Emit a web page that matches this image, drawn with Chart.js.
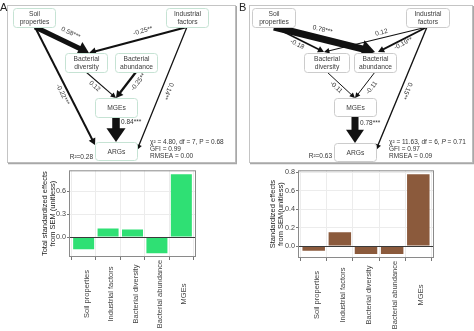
<!DOCTYPE html>
<html>
<head>
<meta charset="utf-8">
<script src="https://cdn.jsdelivr.net/npm/chart.js@4.4.0/dist/chart.umd.min.js"></script>
<style>
  html, body { margin: 0; padding: 0; background: #fff; }
  body { width: 474px; height: 331px; position: relative; overflow: hidden; }
  canvas { position: absolute; }
</style>
</head>
<body>
<canvas id="pathA" width="237" height="165" style="left:0;top:0"></canvas>
<canvas id="pathB" width="237" height="165" style="left:237px;top:0"></canvas>
<canvas id="barA" width="237" height="166" style="left:0;top:165px"></canvas>
<canvas id="barB" width="237" height="166" style="left:237px;top:165px"></canvas>
<script>
const FONT = '"Liberation Sans", Arial, sans-serif';
Chart.defaults.font.family = FONT;

// total effects on ARGs
const predictors = ['Soil properties', 'Industrial factors', 'Bacterial diversity', 'Bacterial abundance', 'MGEs'];
const effectsA = [-0.16, 0.11, 0.10, -0.21, 0.82];
const effectsB = [-0.05, 0.15, -0.085, -0.085, 0.78];
const yTicksA = [0, 0.3, 0.6];
const yTicksB = [0, 0.2, 0.4, 0.6, 0.8];

// SEM paths
const nodeText = {
  soil: ['Soil', 'properties'], ind: ['Industrial', 'factors'],
  div: ['Bacterial', 'diversity'], abund: ['Bacterial', 'abundance'],
  mge: ['MGEs'], args: ['ARGs']
};
const pathFromA = ['soil', 'ind', 'soil', 'ind', 'div', 'abund', 'mge'];
const pathToA = ['div', 'div', 'args', 'args', 'mge', 'mge', 'args'];
const pathCoefA = [0.58, -0.25, -0.22, 0.14, 0.12, -0.25, 0.84];
const pathSigA = ['***', '**', '***', '**', '', '**', '***'];
const pathFromB = ['soil', 'soil', 'ind', 'ind', 'ind', 'div', 'abund', 'mge'];
const pathToB = ['abund', 'div', 'div', 'abund', 'args', 'mge', 'mge', 'args'];
const pathCoefB = [0.78, -0.18, 0.12, -0.19, 0.15, -0.11, -0.11, 0.78];
const pathSigB = ['***', '', '', '**', '**', '', '', '***'];
const r2A = 0.28, r2B = 0.63;
const chi2A = 4.80, dfA = 7, pA = 0.68, gfiA = 0.99, rmseaA = 0.00;
const chi2B = 11.63, dfB = 6, pB = 0.71, gfiB = 0.97, rmseaB = 0.09;

// diagram geometry (node: cx, cy, w, h; ends: offsets from node centres)
const layoutA = {
  letter: 'A', letterX: 0, frame: [7, 5, 235, 162], boxStroke: '#c6e3d4', italicP: false,
  nodes: { soil: [34, 17.5, 42, 19], ind: [187, 17.5, 42, 19], div: [86, 62.5, 42, 19],
           abund: [136, 62.5, 42, 19], mge: [116, 107.5, 42, 19], args: [116, 151, 42, 18] },
  ends: [[[1, 9.5], [3, -9.5]], [[0, 9.5], [3, -9.5]], [[1, 9.5], [-21, -6]], [[0, 9.5], [21, -1]],
         [[0, 9.5], [0, -9.5]], [[0, 9.5], [0, -9.5]], [[0, 9.5], [0, -9]]],
  labels: [[0.58, 10], [0.43, 7.5], [0.55, -6], [0.5, 6.7], [0.4, -5], [0.2, -8], [0.2, 5, 'flat']],
  r2At: [93, 157], fitAt: [150, 142],
  r2: r2A, fit: [chi2A, dfA, pA, gfiA, rmseaA],
  from: pathFromA, to: pathToA, coef: pathCoefA, sig: pathSigA
};
const layoutB = {
  letter: 'B', letterX: 2, frame: [12, 5, 235, 162], boxStroke: '#cccccc', italicP: true,
  nodes: { soil: [36.5, 17.5, 43, 19], ind: [190.5, 17.5, 43, 19], div: [89.5, 62.5, 45, 19],
           abund: [138, 62.5, 42, 19], mge: [118, 107, 42, 18], args: [118, 152, 42, 18] },
  ends: [[[0.5, 9.5], [0, -10.5]], [[0.5, 9.5], [-2.5, -10.5]], [[-0.5, 9.5], [-2.5, -10.5]],
         [[-0.5, 9.5], [3, -10.5]], [[-0.5, 9.5], [21, -2]], [[0.5, 9.5], [0, -9]],
         [[0, 9.5], [0, -9]], [[0, 9], [0, -9]]],
  labels: [[0.46, 9], [0.51, -5], [0.43, 5.4], [0.52, -4], [0.5, 6], [0.45, -5], [0.44, -7], [0.25, 5, 'flat']],
  r2At: [95, 156], fitAt: [152, 142],
  r2: r2B, fit: [chi2B, dfB, pB, gfiB, rmseaB],
  from: pathFromB, to: pathToB, coef: pathCoefB, sig: pathSigB
};

function roundBox(ctx, x, y, w, h, r) {
  ctx.beginPath();
  ctx.moveTo(x + r, y);
  ctx.arcTo(x + w, y, x + w, y + h, r);
  ctx.arcTo(x + w, y + h, x, y + h, r);
  ctx.arcTo(x, y + h, x, y, r);
  ctx.arcTo(x, y, x + w, y, r);
  ctx.closePath();
}

function drawArrow(ctx, x1, y1, x2, y2, w) {
  const a = Math.atan2(y2 - y1, x2 - x1);
  const hl = 4 + 1.3 * w, hw = 1.6 + 1.05 * w;
  const bx = x2 - hl * Math.cos(a), by = y2 - hl * Math.sin(a);
  ctx.lineWidth = w;
  ctx.beginPath();
  ctx.moveTo(x1, y1);
  ctx.lineTo(bx + Math.cos(a), by + Math.sin(a));
  ctx.stroke();
  ctx.beginPath();
  ctx.moveTo(x2, y2);
  ctx.lineTo(bx + hw * Math.sin(a), by - hw * Math.cos(a));
  ctx.lineTo(bx - hw * Math.sin(a), by + hw * Math.cos(a));
  ctx.closePath();
  ctx.fill();
}

function semPlugin(L) {
  return {
    id: 'semPaths',
    afterDraw(chart) {
      const ctx = chart.ctx;
      const px = v => chart.scales.x.getPixelForValue(v);
      const py = v => chart.scales.y.getPixelForValue(v);
      ctx.save();

      // panel frame
      const [fx1, fy1, fx2, fy2] = L.frame;
      ctx.strokeStyle = '#c4c4c4';
      ctx.lineWidth = 1;
      ctx.strokeRect(px(fx1) + 0.5, py(fy1) + 0.5, px(fx2) - px(fx1), py(fy2) - py(fy1));
      ctx.strokeStyle = '#a8a8a8';
      ctx.lineWidth = 1.5;
      ctx.beginPath();
      ctx.moveTo(px(fx1) + 1, py(fy2) + 1.5);
      ctx.lineTo(px(fx2) + 1.5, py(fy2) + 1.5);
      ctx.lineTo(px(fx2) + 1.5, py(fy1) + 1);
      ctx.stroke();

      ctx.fillStyle = '#222';
      ctx.font = '11px ' + FONT;
      ctx.textBaseline = 'alphabetic';
      ctx.textAlign = 'left';
      ctx.fillText(L.letter, px(L.letterX), py(10.5));

      // paths
      const ends = L.coef.map((c, i) => {
        const f = L.nodes[L.from[i]], t = L.nodes[L.to[i]];
        const [fo, to] = L.ends[i];
        return [px(f[0] + fo[0]), py(f[1] + fo[1]), px(t[0] + to[0]), py(t[1] + to[1])];
      });
      ctx.strokeStyle = '#111';
      ctx.fillStyle = '#111';
      ctx.lineCap = 'butt';
      L.coef.forEach((c, i) => {
        const [x1, y1, x2, y2] = ends[i];
        drawArrow(ctx, x1, y1, x2, y2, Math.max(0.9, 9 * Math.abs(c)));
      });

      // boxes
      Object.keys(L.nodes).forEach(k => {
        const [cx, cy, w, h] = L.nodes[k];
        const x = px(cx - w / 2), y = py(cy - h / 2);
        roundBox(ctx, x + 0.5, y + 0.5, w, h, 3);
        ctx.fillStyle = '#fff';
        ctx.fill();
        ctx.strokeStyle = L.boxStroke;
        ctx.lineWidth = 1;
        ctx.stroke();
        const lines = nodeText[k];
        ctx.fillStyle = '#3c3c3c';
        ctx.font = '6.7px ' + FONT;
        ctx.textAlign = 'center';
        ctx.textBaseline = 'middle';
        lines.forEach((s, j) => {
          ctx.fillText(s, px(cx) + 0.5, py(cy) + 1 + (j - (lines.length - 1) / 2) * 8);
        });
      });

      // coefficient labels
      ctx.fillStyle = '#333';
      ctx.font = '6.5px ' + FONT;
      L.coef.forEach((c, i) => {
        const [x1, y1, x2, y2] = ends[i];
        const [t, off, mode] = L.labels[i];
        const text = c.toFixed(2) + L.sig[i];
        const lx = x1 + t * (x2 - x1), ly = y1 + t * (y2 - y1);
        ctx.save();
        if (mode === 'flat') {
          ctx.textAlign = 'left';
          ctx.textBaseline = 'middle';
          ctx.fillText(text, lx + off, ly);
        } else {
          let a = Math.atan2(y2 - y1, x2 - x1) * 180 / Math.PI;
          if (!(a >= 55 && a <= 125)) {
            if (a > 90) a -= 180;
            if (a < -90) a += 180;
          }
          const r = a * Math.PI / 180;
          ctx.translate(lx + off * Math.sin(r), ly - off * Math.cos(r));
          ctx.rotate(r);
          ctx.textAlign = 'center';
          ctx.textBaseline = 'middle';
          ctx.fillText(text, 0, 0);
        }
        ctx.restore();
      });

      // R2 and fit indices
      ctx.fillStyle = '#333';
      ctx.font = '6.5px ' + FONT;
      ctx.textAlign = 'right';
      ctx.textBaseline = 'middle';
      ctx.fillText('R\u00b2=' + L.r2.toFixed(2), px(L.r2At[0]), py(L.r2At[1]));
      const [chi2, df, p, gfi, rmsea] = L.fit;
      let x = px(L.fitAt[0]);
      const y0 = py(L.fitAt[1]);
      ctx.textAlign = 'left';
      const segs = [['\u03c7\u00b2 = ' + chi2.toFixed(2) + ', df = ' + df + ', ', false], ['P', L.italicP], [' = ' + p.toFixed(2), false]];
      segs.forEach(([s, it]) => {
        ctx.font = (it ? 'italic ' : '') + '6.5px ' + FONT;
        ctx.fillText(s, x, y0);
        x += ctx.measureText(s).width;
      });
      ctx.font = '6.5px ' + FONT;
      ctx.fillText('GFI = ' + gfi.toFixed(2), px(L.fitAt[0]), y0 + 7);
      ctx.fillText('RMSEA = ' + rmsea.toFixed(2), px(L.fitAt[0]), y0 + 14);
      ctx.restore();
    }
  };
}

function pathChart(id, L) {
  return new Chart(document.getElementById(id), {
    type: 'scatter',
    data: { datasets: [] },
    options: {
      responsive: false, animation: false, events: [],
      plugins: { legend: { display: false }, tooltip: { enabled: false } },
      scales: {
        x: { type: 'linear', min: 0, max: 237, display: false },
        y: { type: 'linear', min: 0, max: 165, reverse: true, display: false }
      }
    },
    plugins: [semPlugin(L)]
  });
}

// panel border, zero line and vertical category labels
const barDecor = {
  id: 'barDecor',
  afterDatasetsDraw(chart) {
    const { ctx, chartArea: a, scales } = chart;
    ctx.save();
    const y0 = Math.round(scales.y.getPixelForValue(0)) + 0.5;
    ctx.strokeStyle = '#3a3a3a';
    ctx.lineWidth = 1;
    ctx.beginPath();
    ctx.moveTo(a.left, y0);
    ctx.lineTo(a.right, y0);
    ctx.stroke();
    ctx.strokeStyle = '#8a8a8a';
    ctx.strokeRect(a.left + 0.5, a.top + 0.5, a.right - a.left - 1, a.bottom - a.top - 1);
    ctx.restore();
  },
  afterDraw(chart) {
    const { ctx, chartArea: a, scales } = chart;
    ctx.save();
    ctx.fillStyle = '#444';
    ctx.font = '7.5px ' + FONT;
    ctx.textAlign = 'center';
    ctx.textBaseline = 'middle';
    predictors.forEach((name, i) => {
      ctx.save();
      ctx.translate(scales.x.getPixelForValue(i + 1) + 3, a.bottom + 37);
      ctx.rotate(-Math.PI / 2);
      ctx.fillText(name, 0, 0);
      ctx.restore();
    });
    ctx.restore();
  }
};

function barChart(id, values, ticks, yMin, yMax, color, title, g) {
  return new Chart(document.getElementById(id), {
    type: 'bar',
    data: {
      datasets: [{
        data: values.map((v, i) => ({ x: i + 1, y: v })),
        backgroundColor: color, borderWidth: 0,
        categoryPercentage: 1, barPercentage: 0.86
      }]
    },
    options: {
      responsive: false, animation: false, events: [],
      layout: { padding: { left: g.padLeft, right: g.padRight, top: 3, bottom: 0 } },
      plugins: { legend: { display: false }, tooltip: { enabled: false } },
      scales: {
        x: {
          type: 'linear', min: 0.4, max: 5.6, offset: false,
          afterBuildTicks: s => { s.ticks = values.map((v, i) => ({ value: i + 1 })); },
          afterFit: s => { s.height = g.xHeight; },
          ticks: { display: false },
          grid: { color: '#ececec', tickColor: '#777', tickLength: 3 },
          border: { display: false }
        },
        y: {
          type: 'linear', min: yMin, max: yMax,
          afterBuildTicks: s => { s.ticks = ticks.map(v => ({ value: v })); },
          afterFit: s => { s.width = g.yWidth; },
          ticks: { callback: v => v.toFixed(1), color: '#444', font: { size: 7.2 }, padding: 1 },
          grid: { color: '#ececec', tickColor: '#777', tickLength: 2 },
          border: { display: false },
          title: {
            display: true, text: title, color: '#222',
            font: { size: 7.5, lineHeight: 1.1 }, padding: { top: g.titlePad, bottom: 0 }
          }
        }
      }
    },
    plugins: [barDecor]
  });
}

pathChart('pathA', layoutA);
pathChart('pathB', layoutB);
barChart('barA', effectsA, yTicksA, -0.26, 0.87, '#2fe074',
  ['Total standardized effects', 'from SEM (unitless)'],
  { padLeft: 40, yWidth: 29, padRight: 41, xHeight: 74, titlePad: 0.5 });
barChart('barB', effectsB, yTicksB, -0.129, 0.823, '#8b5a3c',
  ['Standardized effects', 'from SEM(unitless)'],
  { padLeft: 32, yWidth: 29, padRight: 40, xHeight: 73, titlePad: 0 });
</script>
</body>
</html>
